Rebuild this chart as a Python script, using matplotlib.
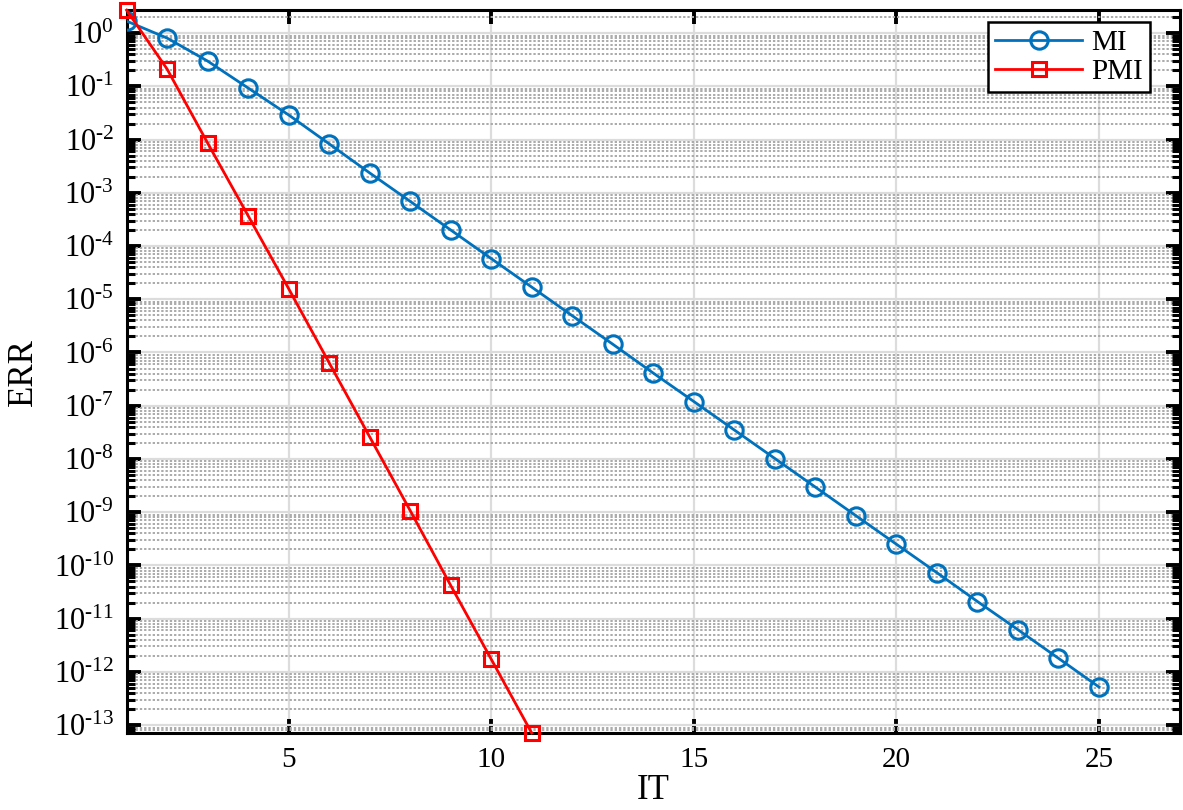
import matplotlib

matplotlib.use("Agg")
import matplotlib.pyplot as plt
import numpy as np
from matplotlib.ticker import (FixedLocator, FuncFormatter, LogLocator,
                               NullFormatter, NullLocator)

plt.rcParams["font.family"] = ["Liberation Serif", "DejaVu Serif"]
plt.rcParams["mathtext.fontset"] = "custom"
plt.rcParams["mathtext.rm"] = "Liberation Serif"
plt.rcParams["mathtext.it"] = "Liberation Serif:italic"

# data
it_mi = np.arange(1, 26)
err_mi = [
    1.68, 0.806, 0.298, 0.093, 0.029, 8.3e-3, 2.36e-3, 6.9e-4, 2.0e-4, 5.8e-5,
    1.69e-5, 4.9e-6, 1.43e-6, 4.1e-7, 1.2e-7, 3.5e-8, 1.02e-8, 2.96e-9, 8.6e-10,
    2.5e-10, 7.3e-11, 2.1e-11, 6.2e-12, 1.8e-12, 5.2e-13,
]
it_pmi = np.arange(1, 12)
err_pmi = [
    2.7, 0.211, 8.6e-3, 3.7e-4, 1.58e-5, 6.4e-7, 2.6e-8, 1.07e-9, 4.2e-11,
    1.73e-12, 7.1e-14,
]
x_ticks = [5, 10, 15, 20, 25]

MI_BLUE = "#0072BD"
PMI_RED = "#FF0000"


def decade_label(val, pos):
    # matlab style 10^n, short hyphen in the exponent
    e = int(round(np.log10(val)))
    return r"$\mathrm{10}^{\mathrm{%s}}$" % str(e).replace("-", r"\text{-}")


fig = plt.figure(figsize=(11.83, 8.10), dpi=100)
ax = fig.add_axes([0.107, 0.095, 0.8905, 0.8925])

ax.plot(it_mi, err_mi, "-o", color=MI_BLUE, lw=2.0, ms=12.5, mew=2.2,
        mfc="none", label="MI", zorder=3)
ax.plot(it_pmi, err_pmi, "-s", color=PMI_RED, lw=2.0, ms=9.5, mew=2.2,
        mfc="none", label="PMI", zorder=3, clip_on=False)

ymin, ymax = min(err_pmi), max(err_pmi)
ax.set_yscale("log")
ax.set_xlim(1, 27)
ax.set_ylim(ymin, ymax)

# only decades inside the view, so no hidden labels hang below the axes
decades = 10.0 ** np.arange(np.ceil(np.log10(ymin)), np.floor(np.log10(ymax)) + 1)

ax.xaxis.set_major_locator(FixedLocator(x_ticks))
ax.xaxis.set_minor_locator(NullLocator())
ax.yaxis.set_major_locator(FixedLocator(decades))
ax.yaxis.set_major_formatter(FuncFormatter(decade_label))
ax.yaxis.set_minor_locator(LogLocator(base=10, subs=np.arange(2, 10), numticks=30))
ax.yaxis.set_minor_formatter(NullFormatter())

ax.grid(True, which="major", color="#dcdcdc", lw=1.6, ls="-", zorder=0)
ax.grid(True, which="minor", axis="y", color="#aaaaaa", lw=1.4,
        ls=(0, (1.2, 1.0)), zorder=0)
ax.set_axisbelow(True)

for spine in ax.spines.values():
    spine.set_linewidth(2.2)
    spine.set_color("black")

ax.tick_params(axis="both", which="major", direction="in", length=10, width=2.8,
               labelsize=21, top=True, right=True)
ax.tick_params(axis="x", which="major", pad=10)
ax.tick_params(axis="y", which="major", labelsize=22, pad=9)
ax.tick_params(axis="both", which="minor", direction="in", length=6, width=2.2,
               top=True, right=True)

ax.set_xlabel("IT", fontsize=25, labelpad=1)
ax.set_ylabel("ERR", fontsize=25, labelpad=10)

leg = ax.legend(loc="upper right", bbox_to_anchor=(0.9716, 0.9834),
                borderaxespad=0, fontsize=21, fancybox=False, framealpha=1,
                edgecolor="black", handlelength=3.0, handletextpad=0.3,
                borderpad=0.25, labelspacing=0.1)
leg.get_frame().set_linewidth(1.8)

fig.savefig("out.png", dpi=100)
